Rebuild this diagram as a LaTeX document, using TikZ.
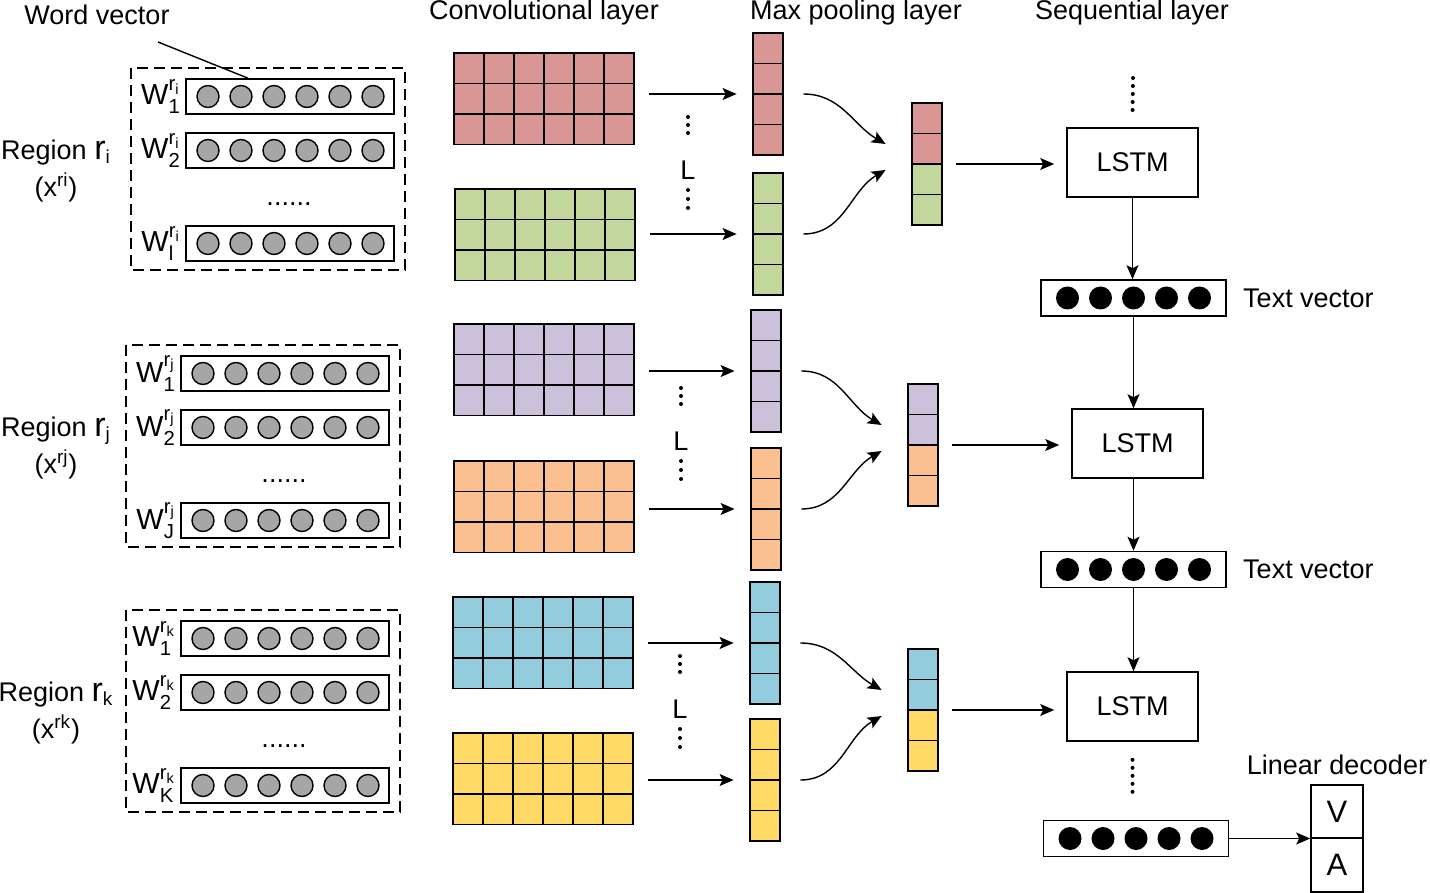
\documentclass[tikz,border=0pt]{standalone}
\usepackage{fontspec}
\setmainfont{Liberation Sans}
\usepackage{amsmath}
\usetikzlibrary{arrows.meta}
\definecolor{Cred}{RGB}{217,150,148}
\definecolor{Cgreen}{RGB}{195,214,155}
\definecolor{Cpurple}{RGB}{204,193,218}
\definecolor{Corange}{RGB}{250,192,144}
\definecolor{Cblue}{RGB}{147,205,221}
\definecolor{Cyellow}{RGB}{255,217,102}

\tikzset{
  lbl/.style={font=\fontsize{13.5}{16}\selectfont, inner sep=0pt},
  wlbl/.style={font=\fontsize{14.5}{18}\selectfont, inner sep=0pt, anchor=east},
  regbox/.style={draw, dash pattern=on 5.5pt off 3pt, line width=0.7pt},
  vecbox/.style={draw, line width=0.8pt, minimum width=104pt, minimum height=17.5pt, inner sep=0pt},
  wdot/.style={draw, line width=0.7pt, fill=gray!70},
  cell/.style={draw, line width=0.8pt},
  lstmbox/.style={draw, line width=0.8pt, minimum width=65.5pt, minimum height=34.5pt, inner sep=0pt, font=\fontsize{13.5}{16}\selectfont},
  txtbox/.style={draw, line width=0.8pt, minimum width=92.5pt, minimum height=18pt, inner sep=0pt},
  decbox/.style={draw, line width=0.8pt, minimum width=26pt, minimum height=26.75pt, inner sep=0pt, font=\fontsize{15.5}{18}\selectfont},
  arr/.style={-{Stealth[length=7pt,width=6pt,inset=1.5pt]}, line width=0.7pt},
  dotline/.style={line width=2pt, line cap=round, dash pattern=on 0pt off 4pt},
}

\begin{document}
\begin{tikzpicture}[x=0.5pt, y=-0.5pt]
    \useasboundingbox (0,0) rectangle (1430,893);

    % titles
    \node[lbl, anchor=base] (twv)   at (97,25)   {Word vector};
    \node[lbl, anchor=base] (tconv) at (544,20)  {Convolutional layer};
    \node[lbl, anchor=base] (tpool) at (856,20)  {Max pooling layer};
    \node[lbl, anchor=base] (tseq)  at (1132,20) {Sequential layer};

    % regions of word vectors
    \foreach \rg/\bx/\by/\lw in {i/131/68/l, j/126/345/J, k/126/610/K}{
        \draw[regbox] (\bx,\by) rectangle ++(274,202);
        \node[lbl, align=center, font=\fontsize{13.5}{18.5}\selectfont] (reg\rg) at (56,\by+103)
            {Region {\fontsize{17}{18}\selectfont r}\textsubscript{\rg}\\($\text{x}^{\text{r\rg}}$)};
        \foreach \n/\dy/\sub in {1/28.5/1, 2/82.5/2, 3/175.5/\lw}{
            \node[vecbox] (w\rg\n) at (\bx+159,\by+\dy) {};
            \node[wlbl] (lw\rg\n) at ([xshift=-2pt]w\rg\n.west)
                {$\text{W}^{\text{r}_\text{\rg}}_{\text{\sub}}$};
            \foreach \ci in {0,...,5}
                \draw[wdot] (\bx+77+\ci*33,\by+\dy) circle (11);
        }
        \node[lbl] (dots\rg) at (\bx+158,\by+136) {......};
    }
    \coordinate (wvtail) at (158,42);
    \draw[line width=0.7pt] (wvtail) -- ([xshift=-21pt]wi1.north);

    % convolutional layer
    \foreach \g/\col/\lx/\ty in {1/Cred/454/53, 2/Cgreen/455/189, 3/Cpurple/454/324,
                                 4/Corange/454/461, 5/Cblue/453/597, 6/Cyellow/453/733}{
        \foreach \cx in {0,...,5}
            \foreach \cy in {0,...,2}
                \draw[cell, fill=\col] (\lx+\cx*30,\ty+\cy*30.5) rectangle ++(30,30.5);
        \node[inner sep=0pt, minimum width=90pt, minimum height=45.75pt] (conv\g) at (\lx+90,\ty+45.75) {};
    }

    % max pooling layer
    \foreach \p/\col/\lx/\ty in {1/Cred/753/33, 2/Cgreen/753/173, 3/Cpurple/751/310,
                                 4/Corange/751/448, 5/Cblue/750/582, 6/Cyellow/750/719}{
        \foreach \cy in {0,...,3}
            \draw[cell, fill=\col] (\lx,\ty+\cy*30.5) rectangle ++(30,30.5);
        \node[inner sep=0pt, minimum width=15pt, minimum height=61pt] (pool\p) at (\lx+15,\ty+61) {};
        \draw[arr] ([xshift=7.5pt]conv\p.east |- pool\p.west) -- ([xshift=-8pt]pool\p.west);
    }

    % pooled vectors joined
    \foreach \m/\ca/\cb/\lx/\ty/\u/\d/\Lx/\Ly in {1/Cred/Cgreen/912/103/1/2/688/170,
                                                 2/Cpurple/Corange/908/384/3/4/681/441,
                                                 3/Cblue/Cyellow/908/649/5/6/680/709}{
        \foreach \cy/\col in {0/\ca, 1/\ca, 2/\cb, 3/\cb}
            \draw[cell, fill=\col] (\lx,\ty+\cy*30.5) rectangle ++(30,30.5);
        \node[inner sep=0pt, minimum width=15pt, minimum height=61pt] (cat\m) at (\lx+15,\ty+61) {};
        \draw[arr] ([xshift=10pt]pool\u.east) to[out=0, in=150] ([xshift=-13pt, yshift=10pt]cat\m.west);
        \draw[arr] ([xshift=10pt]pool\d.east) to[out=0, in=210] ([xshift=-13pt, yshift=-3pt]cat\m.west);
        \node[lbl] (L\m) at (\Lx,\Ly) {L};
        \foreach \dd in {-53,-45,-37,20,29,38}
            \fill (\Lx,\Ly+\dd) circle (2);
    }

    % sequential layer
    \node[lstmbox] (lstm1) at (1132.5,162.5) {LSTM};
    \node[lstmbox] (lstm2) at (1137.5,443.5) {LSTM};
    \node[lstmbox] (lstm3) at (1132.5,706.5) {LSTM};
    \foreach \t/\tx/\ty in {1/1133.5/298, 2/1133.5/569.5, 3/1136/838.5}{
        \node[txtbox] (tv\t) at (\tx,\ty) {};
        \foreach \ci in {-2,...,2}
            \fill (\tx+\ci*33,\ty) circle (11.5);
    }
    \node[lbl, anchor=west] (ltv1) at ([xshift=8pt]tv1.east) {Text vector};
    \node[lbl, anchor=west] (ltv2) at ([xshift=8pt]tv2.east) {Text vector};

    \foreach \m in {1,2,3}
        \draw[arr] ([xshift=7pt]cat\m.east) -- ([xshift=-6pt]cat\m.east -| lstm\m.west);

    \coordinate (seqtop) at (1133,78);
    \draw[dotline] (seqtop) -- ([yshift=5pt]lstm1.north);
    \draw[dotline] ([yshift=-9pt]lstm3.south) -- ([yshift=11pt]lstm3.south |- tv3.north);

    \draw[arr] (lstm1.south) -- (lstm1.south |- tv1.north);
    \draw[arr] (tv1.south) -- (tv1.south |- lstm2.north);
    \draw[arr] (tv2.north |- lstm2.south) -- (tv2.north);
    \draw[arr] (tv2.south) -- (tv2.south |- lstm3.north);

    % linear decoder
    \node[decbox] (dv) at (1337,811.5) {V};
    \node[decbox] (da) at (1337,865) {A};
    \node[lbl, anchor=base] (ldec) at ([yshift=4.5pt]dv.north) {Linear decoder};
    \draw[arr] (tv3.east) -- (tv3.east -| da.north west);
\end{tikzpicture}
\end{document}
